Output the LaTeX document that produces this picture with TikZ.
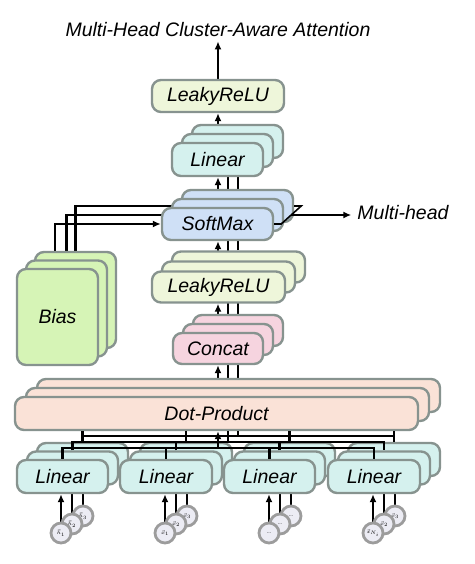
\documentclass[tikz,border=0pt]{standalone}
\usepackage{fontspec}
\setmainfont{Liberation Sans}
\usetikzlibrary{arrows.meta,calc}
\pgfdeclarelayer{bg}
\pgfsetlayers{bg,main}
\definecolor{cLeaky}{HTML}{EEF6DA}
\definecolor{cLin}{HTML}{D5F1EE}
\definecolor{cSoft}{HTML}{CFE0F6}
\definecolor{cConcat}{HTML}{F6D4DF}
\definecolor{cBias}{HTML}{D6F4B6}
\definecolor{cDot}{HTML}{FAE2D7}
\definecolor{cCirc}{HTML}{ECECF4}
\definecolor{bd}{HTML}{87938F}
\definecolor{cbd}{HTML}{9C9C9C}
\newcommand{\sdx}{10}
\newcommand{\sdy}{-9}
\newcommand{\tristack}[7]{%
  \node[box, fill=#2, minimum width=#5pt, minimum height=#6pt] (#1c) at ({#3+2*\sdx},{#4+2*\sdy}) {};
  \node[box, fill=#2, minimum width=#5pt, minimum height=#6pt] (#1b) at ({#3+\sdx},{#4+\sdy}) {};
  \node[box, fill=#2, minimum width=#5pt, minimum height=#6pt] (#1) at (#3,#4) {#7};
}
\begin{document}
\begin{tikzpicture}[x=1pt,y=-1pt,
  txt/.style={inner sep=0pt, font=\fontsize{19.5}{22}\selectfont\itshape},
  box/.style={draw=bd, line width=2.4pt, rounded corners=9pt, inner sep=0pt,
    font=\fontsize{19.5}{22}\selectfont\itshape},
  circ/.style={circle, draw=cbd, line width=2.8pt, fill=cCirc, minimum size=20pt,
    inner sep=0pt, font=\fontsize{5}{6}\selectfont},
  arr/.style={line width=2.6pt, -{Latex[length=8pt,width=7pt]}},
  ln/.style={line width=2.3pt},
]
\useasboundingbox (0,0) rectangle (474,564);
\node[txt] (title) at (218,30) {Multi-Head Cluster-Aware Attention};
\node[txt] (mh) at (403,213) {Multi-head};
\node[box, fill=cLeaky, minimum width=132pt, minimum height=32pt] (lrtop) at (218,96) {LeakyReLU};
\tristack{lin}{cLin}{217.5}{159.5}{91}{33}{Linear}
\tristack{sm}{cSoft}{217.5}{224}{111}{32}{SoftMax}
\renewcommand{\sdy}{-10}
\tristack{lr}{cLeaky}{218.5}{287}{133}{31}{LeakyReLU}
\renewcommand{\sdy}{-9}
\tristack{cat}{cConcat}{218}{348.5}{90}{31}{Concat}
\renewcommand{\sdx}{9}\renewcommand{\sdy}{-8.5}
\tristack{bias}{cBias}{57.5}{317}{81}{96}{Bias}
\renewcommand{\sdx}{11}\renewcommand{\sdy}{-9}
\tristack{dot}{cDot}{216.5}{413.5}{403}{33}{Dot-Product}
\renewcommand{\sdx}{10}\renewcommand{\sdy}{-8.5}
\tristack{la}{cLin}{62.5}{476.5}{91}{33}{Linear}
\tristack{lb}{cLin}{166}{476.5}{92}{33}{Linear}
\tristack{lc}{cLin}{269.5}{476.5}{91}{33}{Linear}
\tristack{ld}{cLin}{374}{476.5}{92}{33}{Linear}
% input circles
\node[circ] (cac) at (83,516) {$\vec{h}_3$};
\node[circ] (cab) at (72,524) {$\vec{h}_2$};
\node[circ] (ca) at (61,533) {$\vec{h}_1$};
\node[circ] (cbc) at (187,516) {$\vec{x}_3$};
\node[circ] (cbb) at (176,524) {$\vec{x}_2$};
\node[circ] (cb) at (165,533) {$\vec{x}_1$};
\node[circ] (ccc) at (291,516) {...};
\node[circ] (ccb) at (280,524) {...};
\node[circ] (cc) at (269,533) {...};
\node[circ] (cdc) at (395,516) {$\vec{x}_3$};
\node[circ] (cdb) at (384,524) {$\vec{x}_2$};
\node[circ] (cd) at (373,533) {$\vec{x}_{N_i}$};
\coordinate (xa) at (218,0);
\coordinate (xb) at (228,0);
\coordinate (xc) at (238,0);
\begin{pgfonlayer}{bg}
  \draw[arr, shorten >=4pt] (lrtop.north) -- (title.south -| lrtop.north);
  \draw[arr] (lin.north -| xa) -- (lrtop.south -| xa);
  \draw[arr] (sm.north -| xa) -- (lin.south -| xa);
  \draw[ln] (smb.north -| xb) -- (linb.south -| xb);
  \draw[ln] (smc.north -| xc) -- (linc.south -| xc);
  \draw[arr] (lr.north -| xa) -- (sm.south -| xa);
  \draw[ln] (lrb.north -| xb) -- (smb.south -| xb);
  \draw[ln] (lrc.north -| xc) -- (smc.south -| xc);
  \draw[arr] (cat.north -| xa) -- (lr.south -| xa);
  \draw[ln] (catb.north -| xb) -- (lrb.south -| xb);
  \draw[ln] (catc.north -| xc) -- (lrc.south -| xc);
  \draw[arr] (dot.north -| xa) -- (cat.south -| xa);
  \draw[ln] (dotb.north -| xb) -- (catb.south -| xb);
  \draw[ln] (dotc.north -| xc) -- (catc.south -| xc);
  % bias
  \draw[arr] ([xshift=-2.5pt]bias.north) |- (sm.west);
  \draw[ln] (biasb.north) |- (smb.west);
  \draw[ln] (biasc.north) |- (smc.west);
  % inputs
  \foreach \g in {a,b,c,d}{
    \draw[arr] (c\g.north) -- (c\g.north |- l\g.south);
    \draw[ln] (c\g b.north) -- (c\g b.north |- l\g b.south);
    \draw[ln] (c\g c.north) -- (c\g c.north |- l\g c.south);
  }
\end{pgfonlayer}
% buses to dot-product
\coordinate (busf) at (218,448);
\coordinate (busm) at (228,442);
\coordinate (busb) at (238,436);
\draw[ln] (la.north) -- (la.north |- busf) -- (ld.north |- busf) -- (ld.north);
\draw[ln] (lb.north) -- (lb.north |- busf);
\draw[ln] (lc.north) -- (lc.north |- busf);
\draw[arr] (busf) -- (dot.south -| busf);
\draw[ln] (lab.north) -- (lab.north |- busm) -- (ldb.north |- busm) -- (ldb.north);
\draw[ln] (lbb.north) -- (lbb.north |- busm);
\draw[ln] (lcb.north) -- (lcb.north |- busm);
\draw[ln] (busm) -- (dot.south -| busm);
\draw[ln] (lac.north |- busb) -- (ldc.north |- busb);
\foreach \g in {a,b,c,d}{
  \draw[ln] (l\g c.north) -- (l\g c.north |- dot.south);
}
\draw[ln] (busb) -- (dot.south -| busb);
% multi-head merge
\coordinate (z1) at ($(sm.east)+(7,0)$);
\coordinate (z2) at ($(smc.east)+(7,0)$);
\coordinate (zm) at ($(z1)!0.5!(z2)$);
\draw[line width=1.6pt] (sm.east) -- (z1) -- (z2) -- (smc.east);
\draw[line width=1.8pt, -{Latex[length=8pt,width=7pt]}, shorten >=6pt] (zm) -- (mh.west |- zm);
\end{tikzpicture}
\end{document}
